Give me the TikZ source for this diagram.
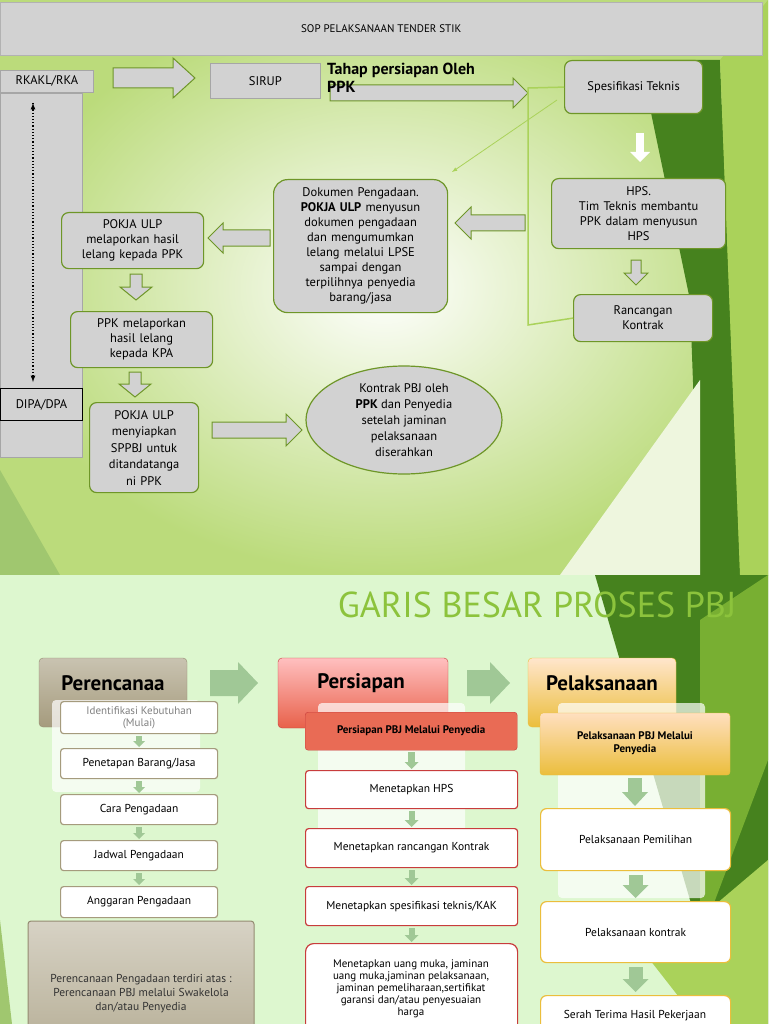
\documentclass[tikz,border=0pt]{standalone}
\usepackage{fontspec}
\setmainfont{PT Sans}
\usetikzlibrary{shapes.geometric,calc}
\definecolor{bord}{RGB}{110,150,40}
\definecolor{boxg}{RGB}{210,210,210}
\definecolor{dg}{RGB}{70,130,30}
\definecolor{mg}{RGB}{120,175,50}
\definecolor{lg}{RGB}{170,210,90}
\definecolor{tg}{RGB}{140,195,60}
\definecolor{parr}{RGB}{160,200,150}
\definecolor{redb}{RGB}{200,60,60}
\definecolor{orb}{RGB}{235,190,60}
\definecolor{brn}{RGB}{165,155,125}
\newcommand{\harr}[6]{\path[blk] (#1,#3-#4) -- (#2-#6,#3-#4) -- (#2-#6,#3-#5) -- (#2,#3) -- (#2-#6,#3+#5) -- (#2-#6,#3+#4) -- (#1,#3+#4) -- cycle;}
\newcommand{\larr}[6]{\path[blk] (#1,#3-#4) -- (#2+#6,#3-#4) -- (#2+#6,#3-#5) -- (#2,#3) -- (#2+#6,#3+#5) -- (#2+#6,#3+#4) -- (#1,#3+#4) -- cycle;}
\newcommand{\varr}[6]{\path[blk] (#3-#4,#1) -- (#3-#4,#2-#6) -- (#3-#5,#2-#6) -- (#3,#2) -- (#3+#5,#2-#6) -- (#3+#4,#2-#6) -- (#3+#4,#1) -- cycle;}
\begin{document}
\begin{tikzpicture}[x=1pt,y=-1pt,
  gbox/.style={draw=bord,line width=1.2pt,fill=boxg,rounded corners=7pt,align=center,font=\fontsize{12.5}{15}\selectfont},
  sbox/.style={draw=gray!70,line width=0.8pt,fill=boxg,align=center,font=\fontsize{12.5}{15}\selectfont},
  blk/.style={draw=bord,line width=1pt,fill=boxg},
  wbox/.style={draw=#1,line width=1.2pt,fill=white,rounded corners=3pt,align=center,font=\fontsize{11.5}{13.5}\selectfont},
  garr/.style={fill=parr,draw=none}]
\useasboundingbox (0,0) rectangle (768,1024);
% ---------- top panel background
\shade[inner color=white,outer color=lg!80] (0,0) rectangle (768,575);
\fill[mg] (690,160) -- (768,60) -- (768,575) -- (705,575) -- cycle;
\fill[dg] (640,60) -- (720,60) -- (740,575) -- (700,575) -- (690,300) -- cycle;
\fill[lg] (720,60) -- (768,0) -- (768,575) -- (740,575) -- cycle;
\fill[mg!70] (0,470) -- (60,575) -- (0,575) -- cycle;
\fill[white!80!lg] (560,575) -- (700,380) -- (700,575) -- cycle;
% title
\node[fill=boxg,draw=gray!60,minimum width=762,minimum height=53,anchor=north west,inner sep=0,font=\fontsize{11}{13}\selectfont] (title) at (0,2) {SOP PELAKSANAAN TENDER STIK};
% left column
\node[sbox,minimum width=82,minimum height=364,anchor=north west,inner sep=0] (col) at (0,93) {};
\node[sbox,minimum width=93,minimum height=22,anchor=north west,inner sep=0] (rka) at (0,70) {RKAKL/RKA};
\node[fill=boxg,draw=black,line width=1pt,minimum width=82,minimum height=32,anchor=north west,inner sep=0,font=\fontsize{12.5}{15}\selectfont] (dipa) at (0,388) {DIPA/DPA};
\coordinate (dtop) at (33,103); \coordinate (dbot) at (33,382);
\draw[dotted,line width=1.2pt,-latex] (dtop) -- (dbot);
\draw[line width=1.2pt,-latex] (33,110) -- (dtop);
% block arrows
\harr{113}{195}{78}{10}{20}{22}
\node[sbox,minimum width=110,minimum height=35,anchor=north west,inner sep=0] (sirup) at (210,63) {SIRUP};
\harr{330}{528}{93}{8}{15}{15}
\node[anchor=north west,align=left,inner sep=0,font=\bfseries\fontsize{16}{18}\selectfont] (tahap) at (327,63) {Tahap persiapan Oleh\\PPK};
\node[gbox,minimum width=138,minimum height=53,anchor=north west,inner sep=2] (spek) at (564,60) {Spesifikasi Teknis};
\node[gbox,text width=168,minimum height=70,anchor=north west,inner sep=3] (hps) at (551,178) {HPS.\\Tim Teknis membantu\\PPK dalam menyusun\\HPS};
\node[gbox,minimum width=139,minimum height=47,anchor=north west,inner sep=2,align=center] (ranc) at (573,294) {Rancangan\\Kontrak};
\node[gbox,text width=172,minimum height=133,anchor=north west,inner sep=1,rounded corners=14pt] (dok) at (273,179) {Dokumen Pengadaan.\\\textbf{POKJA ULP} menyusun\\dokumen pengadaan\\dan mengumumkan\\lelang melalui LPSE\\sampai dengan\\terpilihnya penyedia\\barang/jasa};
\node[gbox,text width=136,minimum height=56,anchor=north west,inner sep=3] (pokja1) at (61,212) {POKJA ULP\\melaporkan hasil\\lelang kepada PPK};
\node[gbox,text width=136,minimum height=56,anchor=north west,inner sep=3] (ppk) at (70,311) {PPK melaporkan\\hasil lelang\\kepada KPA};
\node[gbox,text width=103,minimum height=90,anchor=north west,inner sep=3,font=\fontsize{12.5}{16.5}\selectfont] (pokja2) at (89,402) {POKJA ULP\\menyiapkan\\SPPBJ untuk\\ditandatanga\\ni PPK};
\node[ellipse,draw=bord,line width=1.2pt,fill=boxg,minimum width=196,minimum height=108,align=center,inner sep=0,font=\fontsize{12.5}{16}\selectfont] (kontrak) at (404,420) {Kontrak PBJ oleh\\\textbf{PPK} dan Penyedia\\setelah jaminan\\pelaksanaan\\diserahkan};
% green thin connectors
\draw[lg,line width=1.5pt] (spek.west) -- (528,88) -- (528,325) -- (ranc.west);
\draw[lg,line width=0.8pt,-latex] (557,100) -- (452,172);
% block arrows
\path[fill=white] (636,133) rectangle (644,152); \path[fill=white] (630,152) -- (650,152) -- (640,162) -- cycle;
\varr{260}{285}{636}{5}{12}{12}
\larr{525}{455}{223}{8}{16}{16}
\larr{270}{208}{238}{8}{15}{15}
\varr{274}{300}{136}{6}{16}{13}
\varr{372}{397}{135}{6}{16}{13}
\harr{212}{302}{430}{8}{16}{16}
% ---------- bottom panel
\fill[green!30!lg!25!white] (0,575) rectangle (768,1024);
\fill[dg] (595,575) -- (768,575) -- (768,1024) -- (740,1024) -- (690,900) -- cycle;
\fill[mg] (700,620) -- (768,575) -- (768,760) -- (700,940) -- cycle;
\fill[lg] (650,960) -- (768,860) -- (768,1024) -- (700,1024) -- cycle;
\fill[mg!70] (0,920) -- (12,1024) -- (0,1024) -- cycle;
\node[anchor=east,text=tg,font=\fontsize{36}{38}\selectfont] (gbp) at (740,605) {GARIS BESAR PROSES PBJ};
% headers
\shade[top color=brn!60,bottom color=brn,rounded corners=4pt,draw=brn!90!black] (39,658) rectangle (187,727);
\node[font=\bfseries\fontsize{21}{24}\selectfont] (h1) at (113,683) {Perencanaa};
\shade[top color=red!25,bottom color=red!55!brown!80,rounded corners=4pt,draw=redb] (278,658) rectangle (448,728);
\node[font=\bfseries\fontsize{21}{24}\selectfont] (h2) at (361,683) {Persiapan};
\shade[top color=orange!20,bottom color=orb,rounded corners=4pt,draw=orb] (528,658) rectangle (676,727);
\node[font=\bfseries\fontsize{21}{24}\selectfont] (h3) at (602,683) {Pelaksanaan};
% chevron arrows
\path[garr] (210,670) -- (238,670) -- (238,662) -- (258,683) -- (238,704) -- (238,696) -- (210,696) -- cycle;
\path[garr] (467,670) -- (490,670) -- (490,662) -- (510,683) -- (490,704) -- (490,696) -- (467,696) -- cycle;
% white translucent
\fill[white,opacity=0.7,rounded corners=4pt] (52,700) rectangle (200,792);
\fill[white,opacity=0.7,rounded corners=4pt] (318,703) rectangle (465,860);
\fill[white,opacity=0.7,rounded corners=4pt] (558,703) rectangle (705,898);
% column 1
\begin{scope}[every node/.style={wbox=brn,minimum width=157,anchor=north west,inner sep=1}]
\node[minimum height=32,text=gray,font=\fontsize{11}{12}\selectfont] (c1) at (60,701) {Identifikasi Kebutuhan\\(Mulai)};
\node[minimum height=30] (c2) at (60,748) {Penetapan Barang/Jasa};
\node[minimum height=30] (c3) at (60,794) {Cara Pengadaan};
\node[minimum height=30] (c4) at (60,840) {Jadwal Pengadaan};
\node[minimum height=31] (c5) at (60,886) {Anggaran Pengadaan};
\end{scope}
\foreach \a/\b in {c1/c2,c2/c3,c3/c4,c4/c5}{\path[garr] ($(\a.south)+(-3,2)$) rectangle ($(\b.north)+(3,-6)$); \path[garr] ($(\b.north)+(-6,-7)$) -- ($(\b.north)+(6,-7)$) -- ($(\b.north)+(0,-1)$) -- cycle;}
\shade[top color=brn!45,bottom color=brn!75,draw=brn!90!black,line width=1pt,rounded corners=3pt] (28,921) rectangle (254,1030);
\node[align=center,text=black!80,font=\fontsize{11.5}{14}\selectfont] (c6) at (141,994) {Perencanaan Pengadaan terdiri atas :\\Perencanaan PBJ melalui Swakelola\\dan/atau Penyedia};
% column 2
\node[fill=red!55!brown!75,draw=redb,rounded corners=3pt,minimum width=212,minimum height=38,anchor=north west,inner sep=1,font=\bfseries\fontsize{11}{13}\selectfont] (p0) at (305,712) {Persiapan PBJ Melalui Penyedia};
\begin{scope}[every node/.style={wbox=redb,minimum width=212,anchor=north west,inner sep=1}]
\node[minimum height=38] (p1) at (305,770) {Menetapkan HPS};
\node[minimum height=39] (p2) at (305,828) {Menetapkan rancangan Kontrak};
\node[minimum height=39] (p3) at (305,886) {Menetapkan spesifikasi teknis/KAK};
\node[minimum height=100,rounded corners=8pt] (p4) at (305,943) {};
\end{scope}
\node[anchor=north,align=center,inner sep=0,font=\fontsize{11}{12}\selectfont] (p4t) at (411,959) {Menetapkan uang muka, jaminan\\uang muka,jaminan pelaksanaan,\\jaminan pemeliharaan,sertifikat\\garansi dan/atau penyesuaian\\harga};
\foreach \a/\b in {p0/p1,p1/p2,p2/p3,p3/p4}{\path[garr] ($(\a.south)+(-3,2)$) rectangle ($(\b.north)+(3,-6)$); \path[garr] ($(\b.north)+(-7,-8)$) -- ($(\b.north)+(7,-8)$) -- ($(\b.north)+(0,-1)$) -- cycle;}
% column 3
\shade[top color=orange!25,bottom color=orb,draw=orb,rounded corners=3pt] (540,713) rectangle (730,775);
\node[align=center,font=\bfseries\fontsize{11}{13}\selectfont] (q0) at (635,743) {Pelaksanaan PBJ Melalui\\Penyedia};
\begin{scope}[every node/.style={wbox=orb,minimum width=190,anchor=north west,inner sep=1,rounded corners=6pt}]
\node[minimum height=62] (q1) at (540,808) {Pelaksanaan Pemilihan};
\node[minimum height=61] (q2) at (540,901) {Pelaksanaan kontrak};
\node[minimum height=60,text width=182,align=center] (q3) at (540,995) {};
\end{scope}
\node[font=\fontsize{11.5}{13.5}\selectfont] (q3t) at (635,1016) {Serah Terima Hasil Pekerjaan};
\path[garr] (628,778) rectangle (642,792); \path[garr] (622,792) -- (648,792) -- (635,806) -- cycle;
\foreach \a/\b in {q1/q2,q2/q3}{\path[garr] ($(\a.south)+(-7,4)$) rectangle ($(\b.north)+(7,-16)$); \path[garr] ($(\b.north)+(-13,-16)$) -- ($(\b.north)+(13,-16)$) -- ($(\b.north)+(0,-3)$) -- cycle;}
\end{tikzpicture}
\end{document}
